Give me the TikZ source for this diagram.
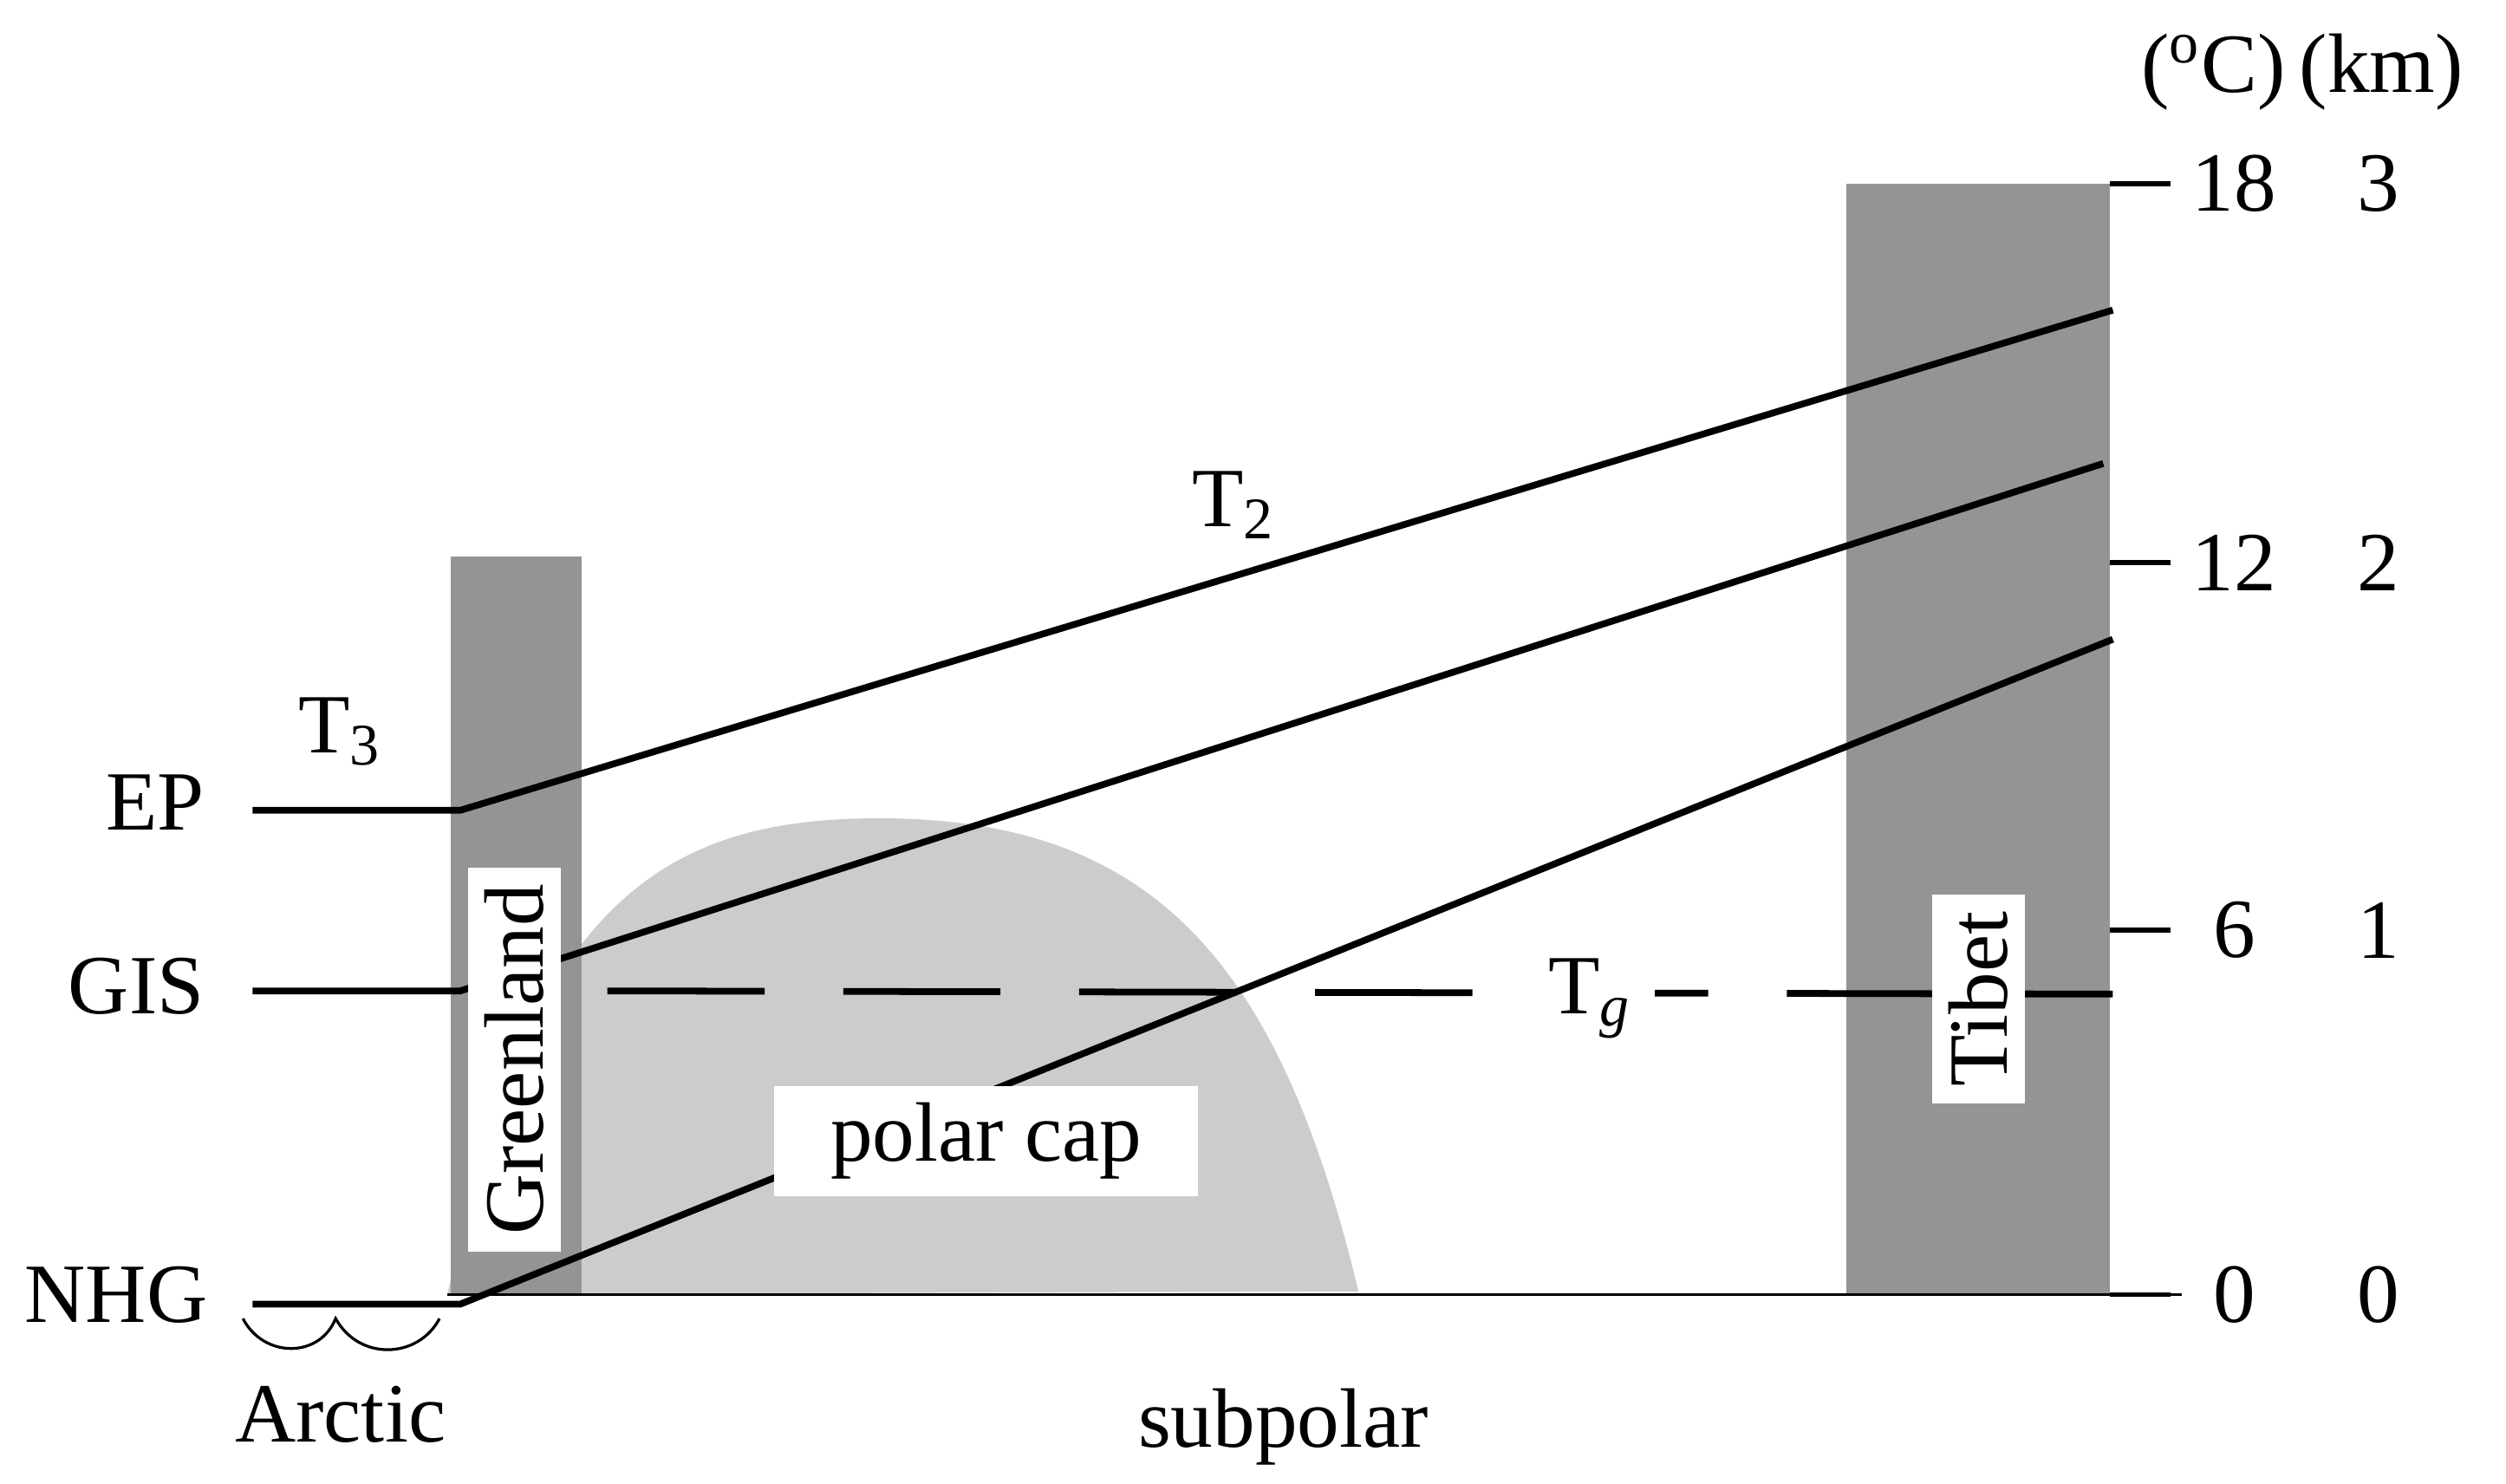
\documentclass[tikz,border=0pt]{standalone}
\usepackage{fontspec}
\setmainfont{Liberation Serif}
\usetikzlibrary{positioning}
\tikzset{
  lbl/.style={font=\fontsize{15}{18}\selectfont, inner sep=1pt},
  boxlbl/.style={lbl, fill=white, inner sep=3pt},
  tline/.style={line width=1.2pt},
}
\begin{document}
\begin{tikzpicture}[x=0.1mm,y=-0.1mm]
            \useasboundingbox (0,0) rectangle (1568,928);
            % polar cap and mountains
            \fill[black!20] (280,810) .. controls (330,560) and (420,512) .. (550,512)
                .. controls (720,512) and (800,600) .. (850,808) -- cycle;
            \fill[black!42] (282,348) rectangle (364,810);
            \fill[black!42] (1155,115) rectangle (1320,810);

            \coordinate (base0) at (280,810);
            \coordinate (base1) at (1365,810);
            \draw[line width=0.5pt] (base0) -- (base1);

            % ticks
            \foreach \yy/\tc/\tk in {115/18/3, 352/12/2, 582/6/1, 810/0/0} {
                \draw[line width=0.8pt] (1320,\yy) -- (1358,\yy);
                \node[lbl] (c\tc) at (1398,\yy) {\tc};
                \node[lbl] (k\tk) at (1488,\yy) {\tk};
            }
            \node[lbl] (degC) at (1385,45) {(\textsuperscript{o}C)};
            \node[lbl] (km) at (1490,45) {(km)};

            % isotherms
            \node[lbl,anchor=east] (EP) at (132,502) {EP};
            \node[lbl,anchor=east] (GIS) at (132,617) {GIS};
            \node[lbl,anchor=east] (NHG) at (134,810) {NHG};
            \coordinate (ep0) at (158,507);  \coordinate (ep1) at (288,507);  \coordinate (ep2) at (1322,194);
            \coordinate (gi0) at (158,620);  \coordinate (gi1) at (288,620);  \coordinate (gi2) at (1316,290);
            \coordinate (nh0) at (158,816);  \coordinate (nh1) at (288,816);  \coordinate (nh2) at (1322,400);
            \draw[tline] (ep0) -- (ep1) -- (ep2);
            \draw[tline] (gi0) -- (gi1) -- (gi2);
            \draw[tline] (nh0) -- (nh1) -- (nh2);
            \coordinate (tg0) at (380,620);  \coordinate (tg1) at (1322,622);
            \draw[tline,dash pattern=on 28pt off 14pt] (tg0) -- (tg1);

            \node[lbl] (T2) at (772,316) {T\textsubscript{2}};
            \node[lbl] (T3) at (213,458) {T\textsubscript{3}};
            \node[lbl,fill=white,inner sep=4pt] (Tg) at (995,625) {T\textsubscript{\textit{g}}};

            \node[boxlbl,rotate=90] (greenland) at (322,663) {Greenland};
            \node[boxlbl,rotate=90] (tibet) at (1238,625) {Tibet};
            \node[boxlbl,inner xsep=10pt] (cap) at (617,714) {polar cap};

            % regions
            \coordinate (a0) at (152,825); \coordinate (a1) at (210,825); \coordinate (a2) at (275,825);
            \draw[line width=0.5pt] (a0) .. controls (165,850) and (200,850) .. (a1)
                .. controls (225,852) and (262,850) .. (a2);
            \node[lbl] (arctic) at (213,885) {Arctic};
            \node[lbl] (subpolar) at (803,893) {subpolar};
\end{tikzpicture}
\end{document}
